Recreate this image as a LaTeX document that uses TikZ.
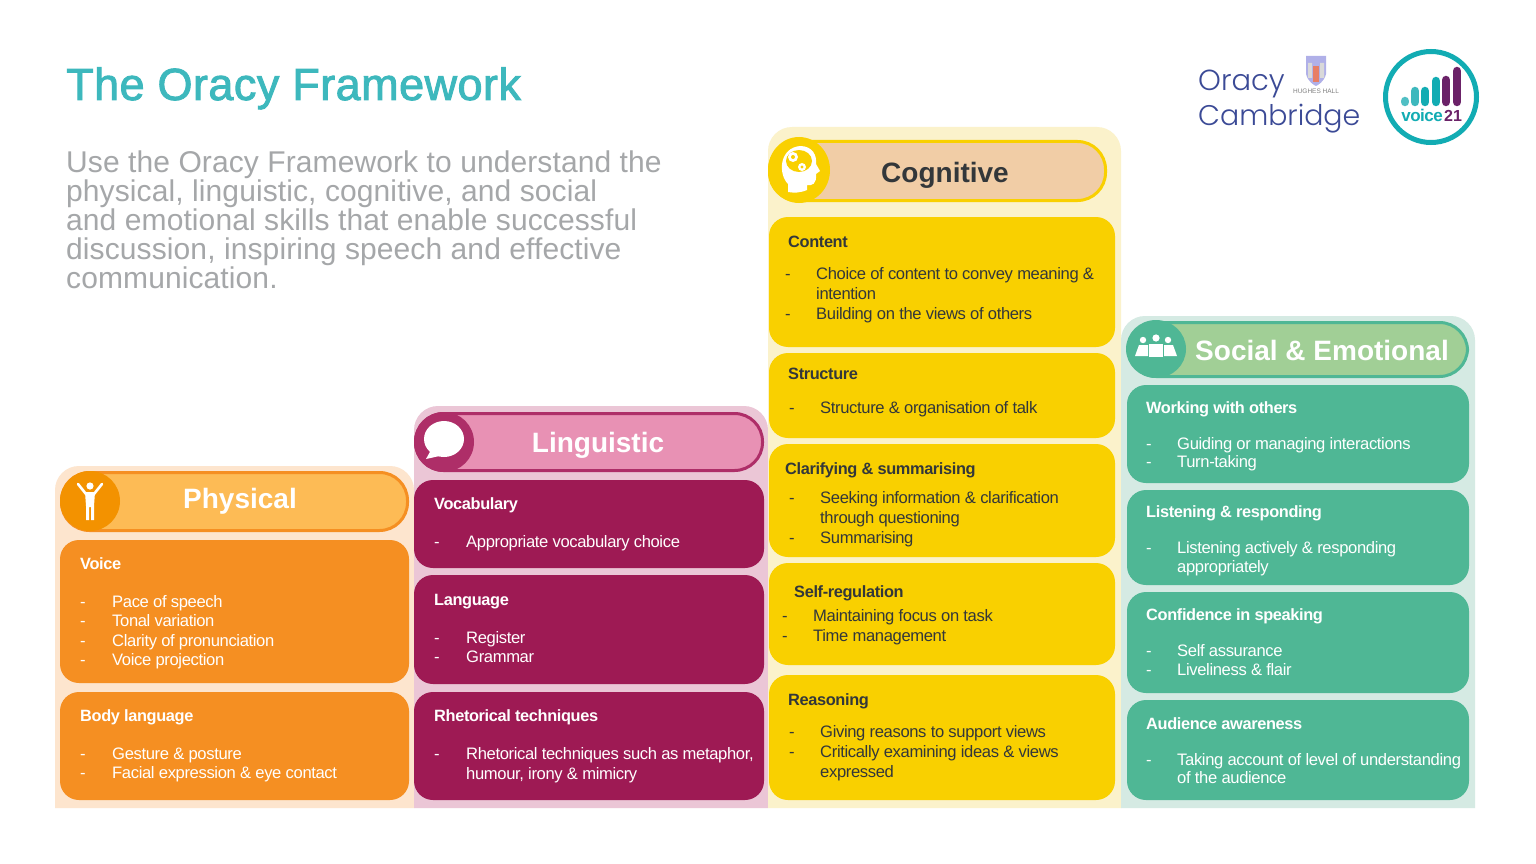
\documentclass[tikz,border=0pt]{standalone}
\usetikzlibrary{shapes.geometric}
\usepackage{fontspec}
\setmainfont{Liberation Sans}
\newfontfamily\logofont{Poppins Light}[BoldFont={Poppins}]
\definecolor{orA}{HTML}{F58F22}\definecolor{orB}{HTML}{FDBB55}\definecolor{orC}{HTML}{FDE5CE}\definecolor{orD}{HTML}{F39200}
\definecolor{liA}{HTML}{9E1A54}\definecolor{liB}{HTML}{E891B4}\definecolor{liC}{HTML}{EBC6D6}\definecolor{liD}{HTML}{AE2E68}
\definecolor{coA}{HTML}{F9D000}\definecolor{coB}{HTML}{F1CDA6}\definecolor{coC}{HTML}{FBF2CB}
\definecolor{soA}{HTML}{4FB795}\definecolor{soB}{HTML}{A1CF96}\definecolor{soC}{HTML}{D5EAE3}
\definecolor{ink}{HTML}{33373A}\definecolor{titleteal}{HTML}{3DB8BD}\definecolor{introgrey}{HTML}{A5A7A9}
\definecolor{oxf}{HTML}{3B4A96}\definecolor{vteal}{HTML}{12ACB3}\definecolor{vpurp}{HTML}{6B2268}
\newcounter{tln}
\tikzset{
  txt/.style={inner sep=0pt,anchor=base west,font=\fontsize{16.6}{17}\selectfont\addfontfeature{LetterSpace=-2.2}},
  hd/.style={txt,font=\fontsize{16.35}{17}\selectfont\bfseries\addfontfeature{LetterSpace=-2.2}},
  pilltxt/.style={inner sep=0pt,anchor=base,font=\fontsize{28}{28}\selectfont\bfseries},
  card/.style={rounded corners=19pt},
  bar/.style={line width=8.5pt,line cap=round},
}
\newcommand{\hl}[3]{\stepcounter{tln}\node[hd] (h\thetln) at (#1,#2+6) {#3};}
\newcommand{\bl}[4]{\stepcounter{tln}\node[txt] (d\thetln) at (#1,#3+6) {-};\node[txt] (b\thetln) at (#2,#3+6) {#4};}
\newcommand{\cl}[3]{\stepcounter{tln}\node[txt] (c\thetln) at (#1,#2+6) {#3};}
\newcommand{\crd}[6]{\node[card,fill=#6,minimum width={(#4)*1pt-(#2)*1pt},minimum height={(#5)*1pt-(#3)*1pt},inner sep=0pt] (#1) at ({(#2+#4)/2},{(#3+#5)/2}) {};}
\newcommand{\pnl}[6]{\fill[#6] (#2,#5) -- (#2,#3+24) arc[start angle=180,end angle=90,radius=24pt] -- (#4-24,#3) arc[start angle=90,end angle=0,radius=24pt] -- (#4,#5) -- cycle;}
\newcommand{\pill}[7]{\node[draw=#7,fill=#6,line width=3pt,rounded corners=28pt,minimum width={(#4)*1pt-(#2)*1pt-3pt},minimum height={(#5)*1pt-(#3)*1pt-3pt},inner sep=0pt] (#1) at ({(#2+#4)/2},{(#3+#5)/2}) {};}
\begin{document}
\begin{tikzpicture}[x=1pt,y=-1pt]
\useasboundingbox (0,0) rectangle (1536,864);
\fill[white] (0,0) rectangle (1536,864);
% panels
\pnl{pa}{55}{466}{414}{808}{orC}
\pnl{pb}{414}{406}{768}{808}{liC}
\pnl{pc}{768}{127}{1121}{808}{coC}
\pnl{pd}{1121}{316}{1475}{808}{soC}
% pills
\pill{pillA}{60}{471}{409}{532}{orB}{orA}
\pill{pillB}{414}{412}{764}{472}{liB}{liD}
\pill{pillC}{768}{140}{1107}{202}{coB}{coA}
\pill{pillD}{1127}{321}{1469}{378}{soB}{soA}
\node[pilltxt,text=white] (tA) at (240,508) {Physical};
\node[pilltxt,text=white] (tB) at (598,452) {Linguistic};
\node[pilltxt,text=ink] (tC) at (945,182) {Cognitive};
\node[pilltxt,text=white] (tD) at (1322,360) {Social \& Emotional};
% icon discs
\node[circle,fill=orD,minimum size=60pt,inner sep=0pt] (iA) at (90,501) {};
\node[circle,fill=liD,minimum size=60pt,inner sep=0pt] (iB) at (444,442) {};
\node[ellipse,fill=coA,minimum width=62pt,minimum height=66pt,inner sep=0pt] (iC) at (799,170) {};
\node[ellipse,fill=soA,minimum width=60pt,minimum height=58pt,inner sep=0pt] (iD) at (1156,349) {};
% person
\fill[white] (90,486) circle[radius=3.6pt];
\draw[white,line width=2.6pt,line cap=round] (78,484) -- (86,494) (102,484) -- (94,494);
\fill[white] (85,492) -- (95,492) -- (94,506) -- (94,520) -- (91,520) -- (91,507) -- (89,507) -- (89,520) -- (86,520) -- (86,506) -- cycle;
% speech bubble
\fill[white] (444,439) ellipse[x radius=20pt,y radius=18pt];
\fill[white] (431,450) -- (426,459) -- (444,455) -- cycle;
% head with gears
\fill[white] (788,192) -- (788,184) .. controls (778,174) and (779,148) .. (800,146) .. controls (813,146) and (817,156) .. (816,164) -- (820,171) -- (816,174) .. controls (817,184) and (812,186) .. (807,185) -- (807,190) .. controls (800,193) and (794,193) .. (788,192) -- cycle;
\fill[coA] (799,161) ellipse[x radius=13pt,y radius=11pt];
\fill[white] (793,157) circle[radius=5pt] (802,167) circle[radius=4pt];
\fill[coA] (793,157) circle[radius=2pt] (802,167) circle[radius=1.7pt];
% group
\fill[white] (1156,338) circle[radius=3.6pt] (1143,340) circle[radius=3.2pt] (1168,340) circle[radius=3.2pt];
\fill[white] (1149,344) -- (1163,344) -- (1163,357) -- (1149,357) -- cycle;
\fill[white] (1139,345) -- (1148,345) -- (1148,356) -- (1135,356) -- cycle;
\fill[white] (1164,345) -- (1173,345) -- (1177,356) -- (1164,356) -- cycle;
% cards
\crd{v}{60}{540}{409}{683}{orA}
\crd{bo}{60}{692}{409}{800}{orA}
\crd{vo}{414}{480}{764}{568}{liA}
\crd{la}{414}{575}{764}{684}{liA}
\crd{rh}{414}{692}{764}{800}{liA}
\crd{co}{769}{217}{1115}{347}{coA}
\crd{st}{769}{353}{1115}{438}{coA}
\crd{cl}{769}{444}{1115}{557}{coA}
\crd{se}{769}{563}{1115}{665}{coA}
\crd{re}{769}{675}{1115}{800}{coA}
\crd{wo}{1127}{385}{1469}{483}{soA}
\crd{li}{1127}{490}{1469}{585}{soA}
\crd{cf}{1127}{592}{1469}{693}{soA}
\crd{au}{1127}{700}{1469}{800}{soA}
% card text
\begin{scope}[every node/.append style={text=white}]
\hl{80}{563}{Voice}
\bl{80}{112}{601}{Pace of speech}
\bl{80}{112}{620}{Tonal variation}
\bl{80}{112}{640}{Clarity of pronunciation}
\bl{80}{112}{659}{Voice projection}
\hl{80}{715}{Body language}
\bl{80}{112}{753}{Gesture \& posture}
\bl{80}{112}{772}{Facial expression \& eye contact}
\hl{434}{503}{Vocabulary}
\bl{434}{466}{541}{Appropriate vocabulary choice}
\hl{434}{599}{Language}
\bl{434}{466}{637}{Register}
\bl{434}{466}{656}{Grammar}
\hl{434}{715}{Rhetorical techniques}
\bl{434}{466}{753}{Rhetorical techniques such as metaphor,}
\cl{466}{773}{humour, irony \& mimicry}
\hl{1146}{407}{Working with others}
\bl{1146}{1177}{443}{Guiding or managing interactions}
\bl{1146}{1177}{461}{Turn-taking}
\hl{1146}{511}{Listening \& responding}
\bl{1146}{1177}{547}{Listening actively \& responding}
\cl{1177}{566}{appropriately}
\hl{1146}{614}{Confidence in speaking}
\bl{1146}{1177}{650}{Self assurance}
\bl{1146}{1177}{669}{Liveliness \& flair}
\hl{1146}{723}{Audience awareness}
\bl{1146}{1177}{759}{Taking account of level of understanding}
\cl{1177}{777}{of the audience}
\end{scope}
\begin{scope}[every node/.append style={text=ink}]
\hl{788}{241}{Content}
\bl{785}{816}{273}{Choice of content to convey meaning \&}
\cl{816}{293}{intention}
\bl{785}{816}{313}{Building on the views of others}
\hl{788}{373}{Structure}
\bl{789}{820}{407}{Structure \& organisation of talk}
\hl{785}{468}{Clarifying \& summarising}
\bl{789}{820}{497}{Seeking information \& clarification}
\cl{820}{517}{through questioning}
\bl{789}{820}{537}{Summarising}
\hl{794}{591}{Self-regulation}
\bl{782}{813}{615}{Maintaining focus on task}
\bl{782}{813}{635}{Time management}
\hl{788}{699}{Reasoning}
\bl{789}{820}{731}{Giving reasons to support views}
\bl{789}{820}{751}{Critically examining ideas \& views}
\cl{820}{771}{expressed}
\end{scope}
% title and intro
\node[inner sep=0pt,anchor=base west,text=titleteal,font=\fontsize{45}{45}\selectfont\addfontfeature{FakeBold=2,LetterSpace=1}] (title) at (66,100) {The Oracy Framework};
\begin{scope}[every node/.style={inner sep=0pt,anchor=base west,text=introgrey,font=\fontsize{30}{30}\selectfont\addfontfeature{LetterSpace=0.35}}]
\node (i1) at (66,172) {Use the Oracy Framework to understand the};
\node (i2) at (66,201) {physical, linguistic, cognitive, and social};
\node (i3) at (66,230) {and emotional skills that enable successful};
\node (i4) at (66,259) {discussion, inspiring speech and effective};
\node (i5) at (66,288) {communication.};
\end{scope}
% Oracy Cambridge logo
\node[inner sep=0pt,anchor=base west,text=oxf,font=\logofont\fontsize{29}{29}\selectfont] (lo1) at (1198,91) {Oracy};
\node[inner sep=0pt,anchor=base west,text=oxf,font=\logofont\fontsize{28.4}{29}\selectfont] (lo2) at (1198,125) {Cambridge};
\fill[gray!45!blue!40] (1306,56) -- (1326,56) -- (1326,74) .. controls (1324,82) and (1318,85) .. (1316,86) .. controls (1314,85) and (1308,82) .. (1306,74) -- cycle;
\fill[red!45!brown!70] (1313,66) rectangle (1319,82);
\fill[white!70!gray] (1308,63) rectangle (1312,78) (1320,63) rectangle (1324,78);
\node[inner sep=0pt,text=gray,font=\fontsize{6.5}{7}\selectfont] (lo3) at (1316,91) {HUGHES HALL};
% voice21 logo
\node[circle,draw=vteal,line width=5pt,minimum size=91pt,inner sep=0pt] (vr) at (1431,97) {};
\draw[bar,draw=titleteal!90] (1405,101) -- (1405,102);
\draw[bar,draw=titleteal] (1415,91) -- (1415,102);
\draw[bar,draw=vteal] (1425,91) -- (1425,102);
\draw[bar,draw=vteal] (1436,81) -- (1436,102);
\draw[bar,draw=vpurp] (1446,80) -- (1446,102);
\draw[bar,draw=vpurp] (1457,71) -- (1457,102);
\node[inner sep=0pt,anchor=base east,text=vteal,font=\fontsize{17}{17}\selectfont\bfseries\addfontfeature{LetterSpace=-3}] (v1) at (1443,122) {voice};
\node[inner sep=0pt,anchor=base west,text=vpurp,font=\fontsize{16}{16}\selectfont\bfseries] (v2) at (1444,122) {21};
\end{tikzpicture}
\end{document}
